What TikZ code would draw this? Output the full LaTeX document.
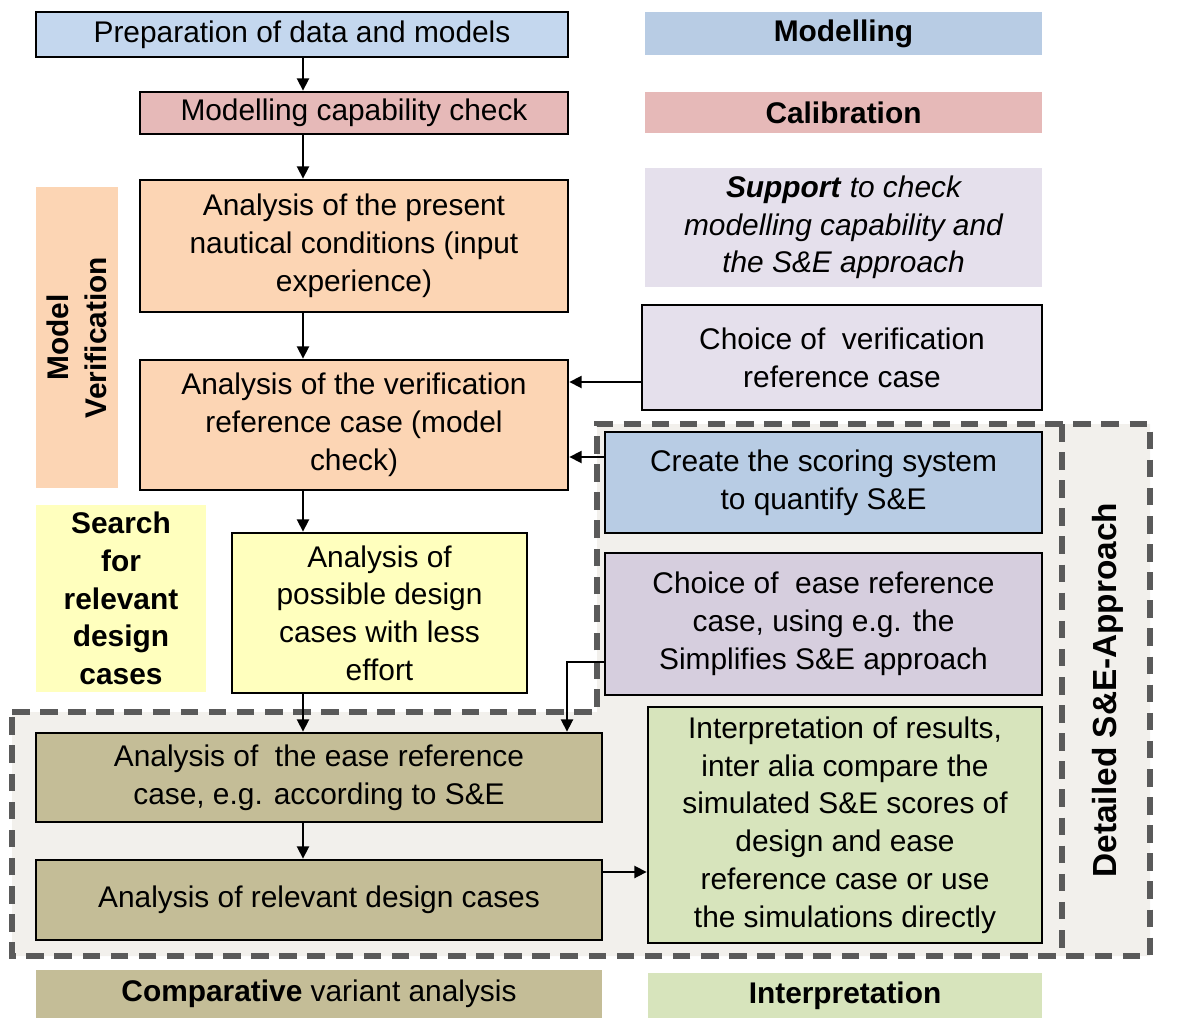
\documentclass[tikz,border=0pt]{standalone}
\usepackage{fontspec}
\setmainfont{Liberation Sans}
\usetikzlibrary{arrows.meta}
\definecolor{cBlue}{RGB}{196,215,238}
\definecolor{cBlueL}{RGB}{184,204,228}
\definecolor{cRed}{RGB}{230,185,184}
\definecolor{cPeach}{RGB}{252,213,180}
\definecolor{cLav}{RGB}{229,224,236}
\definecolor{cLav2}{RGB}{214,206,222}
\definecolor{cYel}{RGB}{255,255,190}
\definecolor{cOlive}{RGB}{196,189,151}
\definecolor{cGreen}{RGB}{215,228,188}
\definecolor{cGrayBg}{RGB}{242,240,236}
\definecolor{cDash}{RGB}{90,90,90}
\tikzset{
 px/.style={x=0.02cm,y=-0.02cm},
 boxx/.style={draw=black,line width=1.6pt,align=center,inner sep=0pt,font=\fontsize{17}{21.5}\selectfont},
 lbl/.style={align=center,inner sep=0pt,font=\fontsize{17}{21.5}\selectfont},
 arr/.style={-{Triangle[length=7pt,width=7pt]},line width=0.9pt},
}
\newcommand{\bx}[6]{\node[#6,minimum width={(#3-#1)*0.02cm},minimum height={(#4-#2)*0.02cm}] (#5) at ({(#1+#3)/2},{(#2+#4)/2}) {};}
\begin{document}
\begin{tikzpicture}[px]
\useasboundingbox (0,0) rectangle (1179,1027);
% dashed region background
\fill[cGrayBg] (12,712) -- (597,712) -- (597,424) -- (1150,424) -- (1150,956) -- (12,956) -- cycle;
\draw[cDash,line width=3pt,dash pattern=on 10pt off 6pt] (12,712) -- (597,712) -- (597,424) -- (1150,424) -- (1150,956) -- (12,956) -- cycle;
\draw[cDash,line width=3pt,dash pattern=on 10pt off 6pt] (1062,424) -- (1062,956);
% boxes
\bx{36}{12}{568}{57}{prep}{boxx,fill=cBlue}
\node[lbl] at (prep) {Preparation of data and models};
\bx{645}{12}{1042}{55}{modl}{lbl,fill=cBlueL}
\node[lbl] at (modl) {\textbf{Modelling}};
\bx{140}{92}{568}{134}{cap}{boxx,fill=cRed}
\node[lbl] at (cap) {Modelling capability check};
\bx{645}{92}{1042}{133}{calib}{lbl,fill=cRed}
\node[lbl] at (calib) {\textbf{Calibration}};
\bx{140}{180}{568}{312}{pres}{boxx,fill=cPeach}
\node[lbl] at (pres) {Analysis of the present\\nautical conditions (input\\experience)};
\bx{645}{168}{1042}{287}{supp}{lbl,fill=cLav}
\node[lbl] at (supp) {\textbf{\itshape Support} \itshape to check\\\itshape modelling capability and\\\itshape the S\&E approach};
\bx{36}{187}{118}{488}{mv}{lbl,fill=cPeach}
\node[lbl,rotate=90] at (mv) {\textbf{Model}\\\textbf{Verification}};
\bx{140}{360}{568}{490}{verif}{boxx,fill=cPeach}
\node[lbl] at (verif) {Analysis of the verification\\reference case (model\\check)};
\bx{642}{305}{1042}{410}{chv}{boxx,fill=cLav}
\node[lbl] at (chv) {Choice of~ verification\\reference case};
\bx{605}{432}{1042}{533}{score}{boxx,fill=cBlueL}
\node[lbl] at (score) {Create the scoring system\\to quantify S\&E};
\bx{605}{553}{1042}{695}{che}{boxx,fill=cLav2}
\node[lbl] at (che) {Choice of~ ease reference\\case, using e.g. the\\Simplifies S\&E approach};
\bx{36}{505}{206}{692}{srch}{lbl,fill=cYel}
\node[lbl] at (srch) {\textbf{Search}\\\textbf{for}\\\textbf{relevant}\\\textbf{design}\\\textbf{cases}};
\bx{232}{533}{527}{693}{poss}{boxx,fill=cYel}
\node[lbl] at (poss) {Analysis of\\possible design\\cases with less\\effort};
\bx{36}{733}{602}{822}{easea}{boxx,fill=cOlive}
\node[lbl] at (easea) {Analysis of~ the ease reference\\case, e.g. according to S\&E};
\bx{36}{860}{602}{940}{rel}{boxx,fill=cOlive}
\node[lbl] at (rel) {Analysis of relevant design cases};
\bx{648}{707}{1042}{943}{interp}{boxx,fill=cGreen}
\node[lbl] at (interp) {Interpretation of results,\\inter alia compare the\\simulated S\&E scores of\\design and ease\\reference case or use\\the simulations directly};
\bx{36}{970}{602}{1018}{comp}{lbl,fill=cOlive}
\node[lbl] at (comp) {\textbf{Comparative} variant analysis};
\bx{648}{973}{1042}{1018}{intl}{lbl,fill=cGreen}
\node[lbl] at (intl) {\textbf{Interpretation}};
\node[lbl,rotate=90,font=\fontsize{19}{23}\selectfont\bfseries] (det) at (1108,690) {Detailed S\&E-Approach};
% arrows
\draw[arr] (prep.south -| 303,0) -- (cap.north -| 303,0);
\draw[arr] (cap.south -| 303,0) -- (pres.north -| 303,0);
\draw[arr] (pres.south -| 303,0) -- (verif.north -| 303,0);
\draw[arr] (verif.south -| 303,0) -- (poss.north -| 303,0);
\draw[arr] (poss.south -| 303,0) -- (easea.north -| 303,0);
\draw[arr] (easea.south -| 303,0) -- (rel.north -| 303,0);
\draw[arr] (chv.west |- 0,382) -- (verif.east |- 0,382);
\draw[arr] (score.west |- 0,457) -- (verif.east |- 0,457);
\draw[arr] (che.west |- 0,662) -- (567,662) -- (easea.north -| 567,0);
\draw[arr] (rel.east |- 0,872) -- (interp.west |- 0,872);
\end{tikzpicture}
\end{document}
